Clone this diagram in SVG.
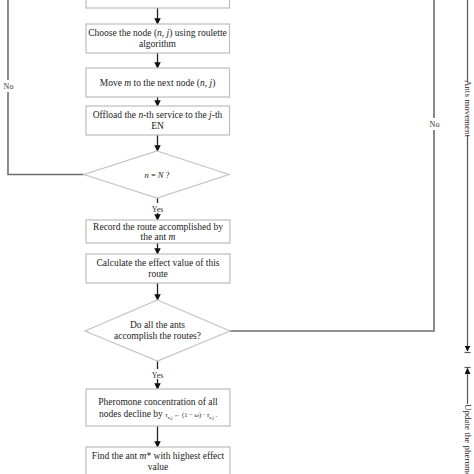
<svg xmlns="http://www.w3.org/2000/svg" width="474" height="474" viewBox="0 0 474 474">
<defs>
<style>
.box{fill:#fff;stroke:#bdbdbd;stroke-width:1.2}
.dia{fill:#fff;stroke:#c4c4c4;stroke-width:1.2}
.t{font-family:"Liberation Serif","Times New Roman",serif;font-size:9.5px;fill:#222;text-anchor:middle}
.s{font-family:"Liberation Serif","Times New Roman",serif;font-size:8px;fill:#333;text-anchor:middle}
.c{fill:none;stroke:#222;stroke-width:1.3}
.loop{fill:none;stroke:#6e6e6e;stroke-width:1.6}
.ann{fill:none;stroke:#555;stroke-width:1.2}
</style>
<marker id="ah" viewBox="0 0 10 10" refX="9" refY="5" markerWidth="5" markerHeight="5" orient="auto"><path d="M0,0 L10,5 L0,10 z" fill="#111"/></marker>
</defs>

<g id="connectors">
<line class="c" x1="157.5" y1="8" x2="157.5" y2="24" marker-end="url(#ah)"/>
<line class="c" x1="157.5" y1="53" x2="157.5" y2="68" marker-end="url(#ah)"/>
<line class="c" x1="157.5" y1="97" x2="157.5" y2="106" marker-end="url(#ah)"/>
<line class="c" x1="157.5" y1="135" x2="157.5" y2="151" marker-end="url(#ah)"/>
<line class="c" x1="157.5" y1="198" x2="157.5" y2="220" marker-end="url(#ah)"/>
<line class="c" x1="157.5" y1="243" x2="157.5" y2="254" marker-end="url(#ah)"/>
<line class="c" x1="157.5" y1="283" x2="157.5" y2="300" marker-end="url(#ah)"/>
<line class="c" x1="157.5" y1="361" x2="157.5" y2="389" marker-end="url(#ah)"/>
<line class="c" x1="157.5" y1="426" x2="157.5" y2="447" marker-end="url(#ah)"/>
<polyline class="loop" points="84,174.5 8,174.5 8,0"/>
<polyline class="loop" points="230,331 434,331 434,0"/>
<rect x="150" y="203" width="15" height="10" fill="#fff"/>
<text class="s" x="157.5" y="211.5">Yes</text>
<rect x="150" y="369" width="15" height="10" fill="#fff"/>
<text class="s" x="157.5" y="377.5">Yes</text>
<rect x="1" y="80" width="15" height="12" fill="#fff"/>
<text class="s" x="8.5" y="89">No</text>
<rect x="427" y="118" width="15" height="12" fill="#fff"/>
<text class="s" x="434.5" y="127">No</text>
</g>

<g id="annotation">
<line class="ann" x1="467.5" y1="0" x2="467.5" y2="351" marker-end="url(#ah)"/>
<line class="ann" x1="464.5" y1="352.5" x2="470.5" y2="352.5"/>
<line class="ann" x1="464.5" y1="367.5" x2="470.5" y2="367.5"/>
<line class="ann" x1="467.5" y1="404" x2="467.5" y2="368.5" marker-end="url(#ah)"/>
<rect x="462" y="82" width="11" height="53" fill="#fff"/>
<text class="t" transform="translate(464.5,108.5) rotate(90)" style="font-size:9px">Ants movement</text>
<text class="t" transform="translate(464.5,404) rotate(90)" style="font-size:9px;text-anchor:start">Update the pheromone</text>
</g>

<g id="n0"><rect class="box" x="86" y="-20" width="143.5" height="28"/></g>

<g id="n1"><rect class="box" x="86" y="24" width="143.5" height="29"/>
<text class="t" x="157.5" y="36">Choose the node (<tspan font-style="italic">n</tspan>, <tspan font-style="italic">j</tspan>) using roulette</text>
<text class="t" x="157.5" y="47">algorithm</text></g>

<g id="n2"><rect class="box" x="86" y="68" width="143.5" height="29"/>
<text class="t" x="157.5" y="85.5">Move <tspan font-style="italic">m</tspan> to the next node (<tspan font-style="italic">n</tspan>, <tspan font-style="italic">j</tspan>)</text></g>

<g id="n3"><rect class="box" x="86" y="106" width="143.5" height="29"/>
<text class="t" x="157.5" y="118">Offload the <tspan font-style="italic">n</tspan>-th service to the <tspan font-style="italic">j</tspan>-th</text>
<text class="t" x="157.5" y="129">EN</text></g>

<g id="d1"><polygon class="dia" points="157,151 229,174.5 157,198 84,174.5"/>
<text class="t" x="157" y="177.5" style="font-size:8.5px"><tspan font-style="italic">n</tspan> = <tspan font-style="italic">N</tspan> ?</text></g>

<g id="n4"><rect class="box" x="86" y="220" width="144" height="23"/>
<text class="t" x="158" y="230">Record the route accomplished by</text>
<text class="t" x="158" y="240">the ant <tspan font-style="italic">m</tspan></text></g>

<g id="n5"><rect class="box" x="86" y="254" width="144" height="29"/>
<text class="t" x="158" y="266">Calculate the effect value of this</text>
<text class="t" x="158" y="277">route</text></g>

<g id="d2"><polygon class="dia" points="157.5,300 230,331 157.5,361 85,331"/>
<text class="t" x="157.5" y="328">Do all the ants</text>
<text class="t" x="157.5" y="339">accomplish the routes?</text></g>

<g id="n6"><rect class="box" x="86" y="389" width="144" height="37"/>
<text class="t" x="158" y="405">Pheromone concentration of all</text>
<text class="t" x="158" y="417">nodes decline by <tspan font-style="italic" font-size="7">τ</tspan><tspan font-size="4.5" dy="1.5">n,j</tspan><tspan font-size="6.5" dy="-1.5"> ← (1 − <tspan font-style="italic">ω</tspan>) · </tspan><tspan font-style="italic" font-size="7">τ</tspan><tspan font-size="4.5" dy="1.5">n,j</tspan><tspan font-size="6.5" dy="-1.5"> .</tspan></text></g>

<g id="n7"><rect class="box" x="86" y="447" width="144" height="45"/>
<text class="t" x="158" y="459">Find the ant <tspan font-style="italic">m</tspan>* with highest effect</text>
<text class="t" x="158" y="470">value</text></g>
</svg>
